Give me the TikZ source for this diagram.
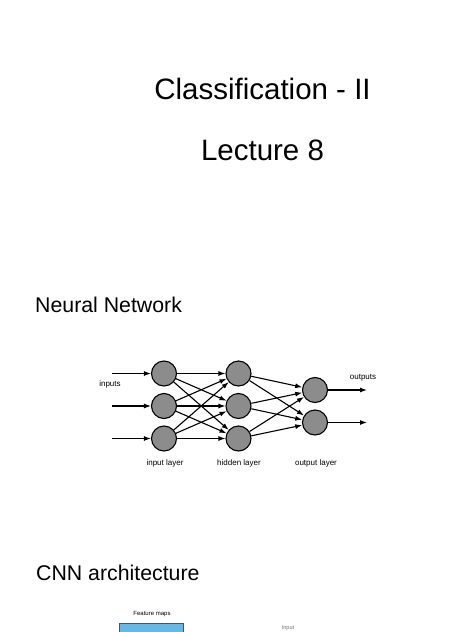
\documentclass[tikz,border=0pt]{standalone}
\usepackage{fontspec}
\setmainfont{Liberation Sans}
\usetikzlibrary{arrows.meta}
\definecolor{fmblue}{RGB}{100,185,232}
\definecolor{fmedge}{RGB}{40,90,140}
\begin{document}
\begin{tikzpicture}[x=1pt,y=-1pt,
  neuron/.style={circle,draw=black,line width=1.1pt,fill=black!45,minimum size=25pt,inner sep=0pt},
  conn/.style={line width=1.1pt,-{Latex[length=7pt,width=5pt]}},
  lab/.style={font=\fontsize{8}{9}\selectfont,inner sep=0pt},
  title/.style={font=\fontsize{29.5}{34}\selectfont,inner sep=0pt,anchor=base},
  head/.style={font=\fontsize{21.3}{25}\selectfont,inner sep=0pt,anchor=base west}]
\useasboundingbox (0,0) rectangle (474,632);
\fill[white] (0,0) rectangle (474,632);
% titles
\node[title] (t1) at (262.5,99) {Classification - II};
\node[title] (t2) at (262.5,160) {Lecture 8};
\node[head] (h1) at (35,312) {Neural Network};
\node[head] (h2) at (36,580) {CNN architecture};
% network
\node[neuron] (i1) at (164,373.5) {};
\node[neuron] (i2) at (164,406) {};
\node[neuron] (i3) at (164,438.5) {};
\node[neuron] (h1n) at (238.5,373.5) {};
\node[neuron] (h2n) at (238.5,406) {};
\node[neuron] (h3n) at (238.5,438.5) {};
\node[neuron] (o1) at (315,390) {};
\node[neuron] (o2) at (315,422.5) {};
\coordinate (a1) at (112,373.5);
\coordinate (a2) at (112,406);
\coordinate (a3) at (112,438.5);
\coordinate (b1) at (367,390);
\coordinate (b2) at (367,422.5);
\foreach \k in {1,2,3} {\draw[conn] (a\k) -- (i\k);}
\foreach \i in {1,2,3} {\foreach \j in {1,2,3} {\draw[conn] (i\i) -- (h\j n);}}
\foreach \i in {1,2,3} {\foreach \j in {1,2} {\draw[conn] (h\i n) -- (o\j);}}
\draw[conn] (o1) -- (b1);
\draw[conn] (o2) -- (b2);
\node[lab] (l1) at (110,384) {inputs};
\node[lab] (l2) at (363,378) {outputs};
\node[lab] (l3) at (165,463.5) {input layer};
\node[lab] (l4) at (239,463.5) {hidden layer};
\node[lab] (l5) at (316,463.5) {output layer};
% CNN fragment
\node[font=\fontsize{6}{7}\selectfont,inner sep=0pt] (fm) at (152,614) {Feature maps};
\node[draw=fmedge,fill=fmblue,line width=0.6pt,minimum width=64pt,minimum height=20pt,inner sep=0pt,anchor=north west] (box) at (119,623) {};
\node[font=\fontsize{5.5}{6}\selectfont,text=black!55,inner sep=0pt,anchor=base] (inp) at (288,629.5) {Input};
\end{tikzpicture}
\end{document}
